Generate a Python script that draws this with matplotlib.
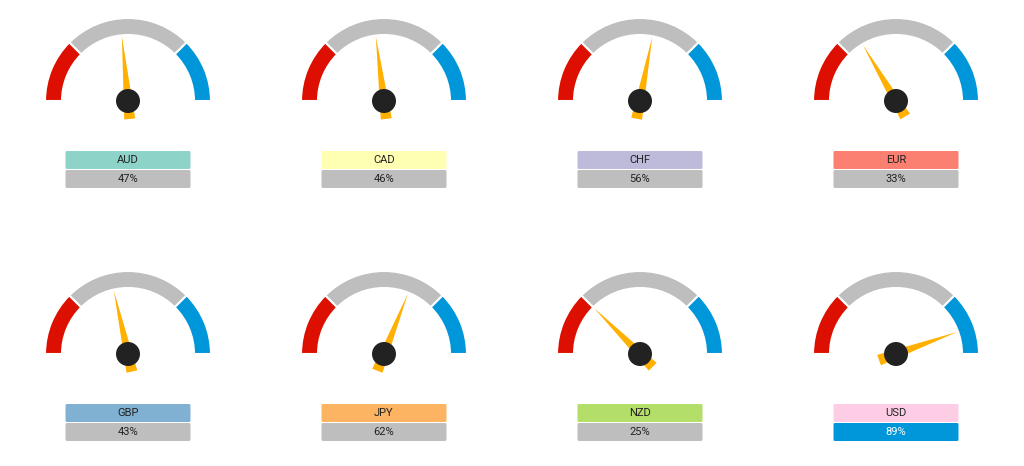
import numpy as np
import matplotlib.pyplot as plt
from matplotlib.patches import Wedge, Circle, Polygon, FancyBboxPatch

currencies = ['AUD', 'CAD', 'CHF', 'EUR', 'GBP', 'JPY', 'NZD', 'USD']
values = [47, 46, 56, 33, 43, 62, 25, 89]
label_colors = ['#8dd3c7', '#ffffb3', '#bebada', '#fb8072',
                '#80b1d3', '#fdb462', '#b3de69', '#fccde5']

RED = '#dd0f00'
BLUE = '#0096da'
GRAY = '#bebebe'
NEEDLE = '#ffb000'
HUB = '#222222'

W, H = 1024, 466
fig = plt.figure(figsize=(W / 100, H / 100), dpi=100)
ax = fig.add_axes([0, 0, 1, 1])
ax.set_xlim(0, W)
ax.set_ylim(0, H)
ax.axis('off')

r_out, band = 83, 17
col_x = [128, 384, 640, 896]
row_y = [365, 112]       # gauge centres (y up)
box_top = [315, 62]      # top of label box


def value_color(v):
    if v >= 75:
        return BLUE, 'white'
    if v < 25:
        return RED, 'white'
    return GRAY, '#222222'


for i, (cur, v, lc) in enumerate(zip(currencies, values, label_colors)):
    cx = col_x[i % 4]
    cy = row_y[i // 4]
    # bands
    for t1, t2, c in [(135, 180, RED), (45, 135, GRAY), (0, 45, BLUE)]:
        ax.add_patch(Wedge((cx, cy), r_out, t1, t2, width=band, facecolor=c,
                           edgecolor='white', linewidth=1.5))
    # needle
    a = np.radians(180 - v / 100 * 180)
    d = np.array([np.cos(a), np.sin(a)])
    p = np.array([-d[1], d[0]])
    tip = np.array([cx, cy]) + d * 65
    tail = np.array([cx, cy]) - d * 18
    hw = 5.5
    ax.add_patch(Polygon([tip, tail + p * hw, tail - p * hw], closed=True,
                         facecolor=NEEDLE, edgecolor='none'))
    ax.add_patch(Circle((cx, cy), 12, facecolor=HUB, edgecolor='none'))
    # label boxes
    bw, bh = 125, 18
    bt = box_top[i // 4]
    ax.add_patch(FancyBboxPatch((cx - bw / 2, bt - bh), bw, bh,
                                boxstyle='round,pad=0,rounding_size=1.5',
                                facecolor=lc, edgecolor='none'))
    ax.text(cx, bt - bh / 2, cur, ha='center', va='center', fontsize=8,
            family='Roboto', color='#222222')
    vc, tc = value_color(v)
    ax.add_patch(FancyBboxPatch((cx - bw / 2, bt - 2 * bh - 1), bw, bh,
                                boxstyle='round,pad=0,rounding_size=1.5',
                                facecolor=vc, edgecolor='none'))
    ax.text(cx, bt - 1.5 * bh - 1, f'{v}%', ha='center', va='center',
            fontsize=8, family='Roboto', color=tc)

fig.savefig('out.png', dpi=100, facecolor='white')
